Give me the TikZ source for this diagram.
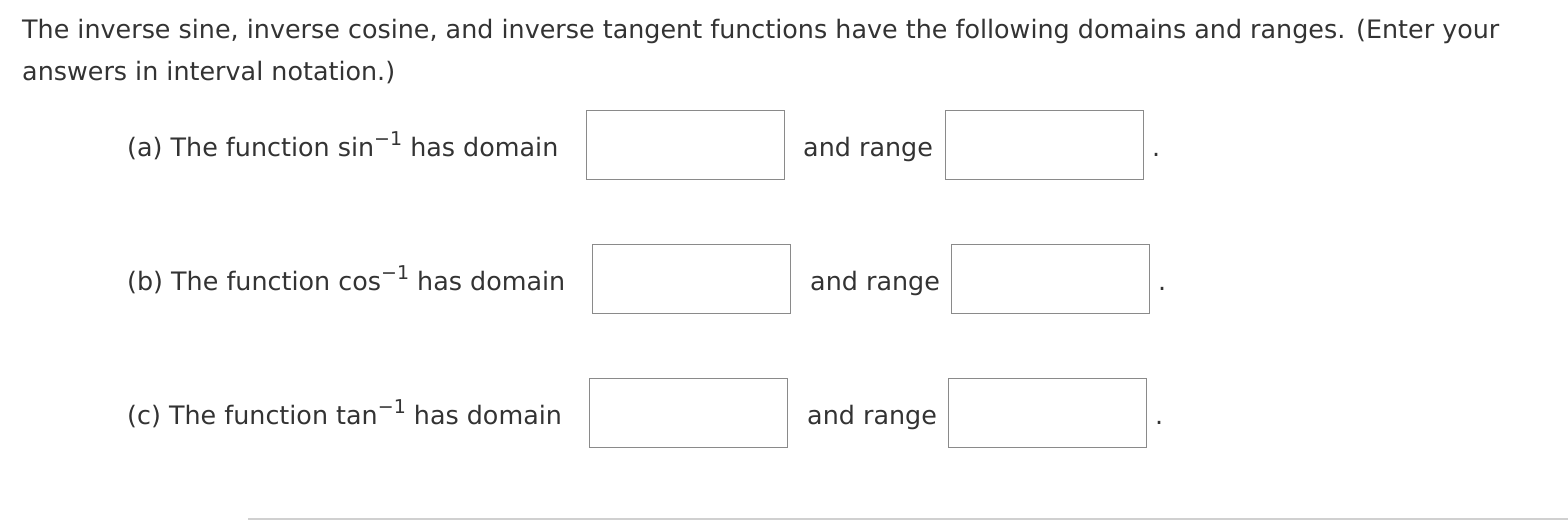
\documentclass[tikz,border=0pt]{standalone}
\usepackage{fontspec}
\setmainfont{DejaVu Sans}
\definecolor{txt}{HTML}{333333}
\definecolor{bx}{HTML}{8A8A8A}
\definecolor{rule}{HTML}{D0D0D0}
\newcommand{\inv}{\raisebox{0.42em}{\fontsize{19}{19}\selectfont −1}}
\begin{document}
\begin{tikzpicture}[x=1pt,y=-1pt,
  lbl/.style={anchor=base west,inner sep=0pt,text=txt,font=\fontsize{25.4}{30}\selectfont},
  ansbox/.style={draw=bx,line width=1.3pt,minimum width=198pt,minimum height=69pt,anchor=north west,inner sep=0pt}]
\useasboundingbox (0,0) rectangle (1568,520);
\node[lbl] (l1) at (22,38) {The inverse sine, inverse cosine, and inverse tangent functions have the following domains and ranges. (Enter your};
\node[lbl] (l2) at (22,80) {answers in interval notation.)};
\node[lbl] (a) at (127,156) {(a) The function sin\inv{} has domain};
\node[ansbox] (a1) at (586,110) {};
\node[lbl] (ar) at (803,156) {and range};
\node[ansbox] (a2) at (945,110) {};
\node[lbl] (ad) at (1152,156) {.};
\node[lbl] (b) at (127,290) {(b) The function cos\inv{} has domain};
\node[ansbox] (b1) at (592,244) {};
\node[lbl] (br) at (810,290) {and range};
\node[ansbox] (b2) at (951,244) {};
\node[lbl] (bd) at (1158,290) {.};
\node[lbl] (c) at (127,424) {(c) The function tan\inv{} has domain};
\node[ansbox] (c1) at (589,378) {};
\node[lbl] (cr) at (807,424) {and range};
\node[ansbox] (c2) at (948,378) {};
\node[lbl] (cd) at (1155,424) {.};
\coordinate (r1) at (248,519);
\coordinate (r2) at (1568,519);
\draw[rule,line width=1.2pt] (r1) -- (r2);
\end{tikzpicture}
\end{document}
